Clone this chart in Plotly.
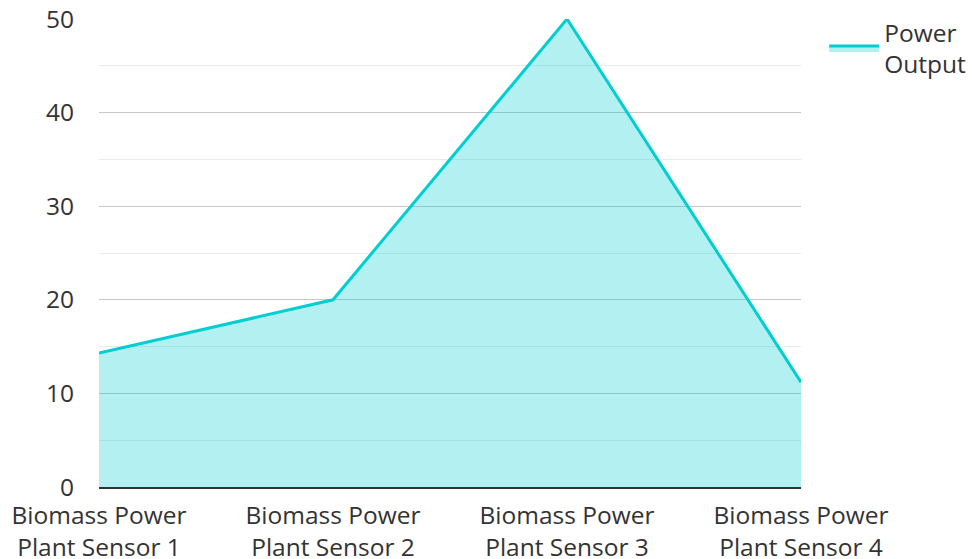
import plotly.graph_objects as go

categories = ["Biomass Power<br>Plant Sensor 1", "Biomass Power<br>Plant Sensor 2",
              "Biomass Power<br>Plant Sensor 3", "Biomass Power<br>Plant Sensor 4"]
power_output = [14.3, 20, 50, 11.2]
series_name = "Power<br>Output"
y_ticks = [0, 10, 20, 30, 40, 50]

x_idx = list(range(len(categories)))

fig = go.Figure()
fig.add_trace(go.Scatter(
    x=x_idx, y=power_output, name=series_name, mode="lines",
    line=dict(color="#00CED1", width=3),
    fill="tozeroy", fillcolor="rgba(0,206,209,0.3)",
))

fig.update_layout(
    width=972, height=559,
    margin=dict(l=99, r=171, t=19, b=72, autoexpand=False),
    paper_bgcolor="white", plot_bgcolor="white",
    font=dict(family="Open Sans", size=24.5, color="#333"),
    showlegend=True,
    legend=dict(x=1.033, y=1.02, xanchor="left", yanchor="top", itemwidth=50,
                font=dict(size=24.5, color="#333"), bgcolor="rgba(0,0,0,0)"),
    xaxis=dict(range=[0, 3], tickvals=x_idx, ticktext=categories, automargin=False,
               showgrid=False, showline=True, linecolor="#333", linewidth=2,
               ticks="", zeroline=False, ticklabelstandoff=6,
               ticklabeloverflow="allow"),
    yaxis=dict(range=[0, 50], tickvals=y_ticks, showgrid=True, automargin=False,
               gridcolor="#c8c8c8", gridwidth=1, zeroline=False,
               ticks="", ticklabelstandoff=24, ticklabeloverflow="allow",
               minor=dict(dtick=5, showgrid=True, gridcolor="#ebebeb", gridwidth=1)),
)

fig.write_html("out.html", config={"displayModeBar": False},
               post_script="document.body.style.margin='0';document.body.style.padding='0';")
